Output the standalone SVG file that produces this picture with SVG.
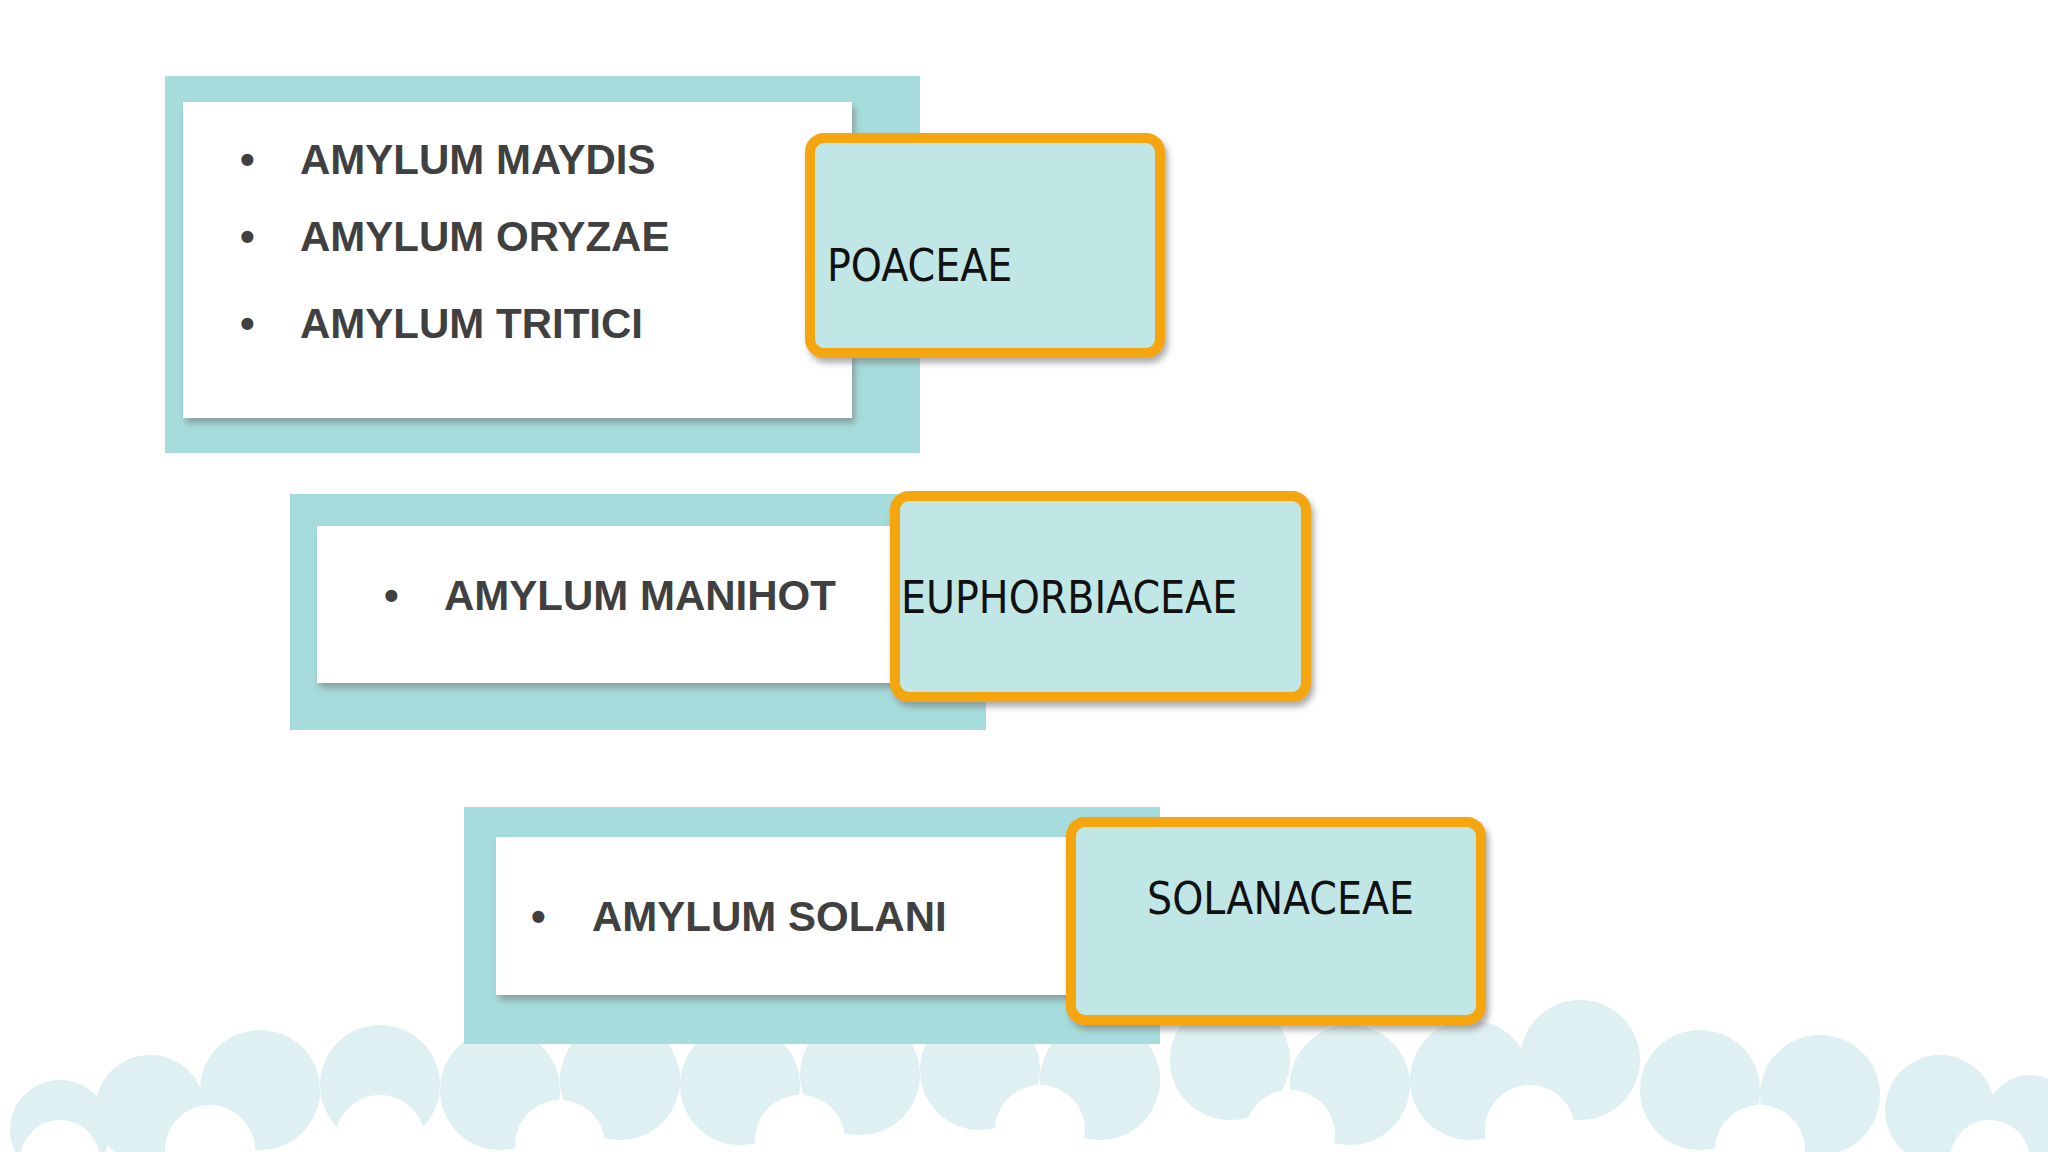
<svg xmlns="http://www.w3.org/2000/svg" width="2048" height="1152" viewBox="0 0 2048 1152">
<defs>
<style>
.teal{fill:#a6dcdc}
.card{fill:#fff;filter:url(#sh)}
.fam{fill:#c0e6e6;stroke:#f5a50e;stroke-width:10}
.item{font-family:"Liberation Sans",Arial,sans-serif;font-weight:bold;font-size:42px;fill:#404040}
.lab{font-family:"DejaVu Sans Condensed","DejaVu Sans",sans-serif;font-size:44px;fill:#111}
.cl{fill:#dff0f2}
.cw{fill:#fff}
</style>
<filter id="sh" x="-5%" y="-5%" width="115%" height="120%"><feDropShadow dx="3" dy="5" stdDeviation="3" flood-color="#777" flood-opacity="0.6"/></filter>
</defs>
<rect width="2048" height="1152" fill="#fff"/>
<g id="clouds">
<circle class="cl" cx="60" cy="1130" r="50"/><circle class="cl" cx="150" cy="1110" r="55"/><circle class="cl" cx="260" cy="1090" r="60"/><circle class="cl" cx="380" cy="1085" r="60"/><circle class="cl" cx="500" cy="1090" r="60"/><circle class="cl" cx="620" cy="1080" r="60"/><circle class="cl" cx="740" cy="1085" r="60"/><circle class="cl" cx="860" cy="1075" r="60"/><circle class="cl" cx="980" cy="1070" r="60"/><circle class="cl" cx="1100" cy="1080" r="60"/><circle class="cl" cx="1230" cy="1060" r="60"/><circle class="cl" cx="1350" cy="1085" r="60"/><circle class="cl" cx="1470" cy="1080" r="60"/><circle class="cl" cx="1580" cy="1060" r="60"/><circle class="cl" cx="1700" cy="1090" r="60"/><circle class="cl" cx="1820" cy="1095" r="60"/><circle class="cl" cx="1940" cy="1110" r="55"/><circle class="cl" cx="2030" cy="1120" r="45"/>
<circle class="cw" cx="60" cy="1160" r="40"/><circle class="cw" cx="210" cy="1150" r="45"/><circle class="cw" cx="380" cy="1140" r="45"/><circle class="cw" cx="560" cy="1145" r="45"/><circle class="cw" cx="800" cy="1140" r="45"/><circle class="cw" cx="1040" cy="1130" r="45"/><circle class="cw" cx="1290" cy="1135" r="45"/><circle class="cw" cx="1530" cy="1130" r="45"/><circle class="cw" cx="1760" cy="1150" r="45"/><circle class="cw" cx="1990" cy="1160" r="40"/>
</g>
<g id="node1">
<rect class="teal" x="165" y="76" width="755" height="377"/>
<rect class="card" x="183" y="102" width="669" height="316"/>
<text class="item" x="240" y="174">•</text><text class="item" x="300" y="174">AMYLUM MAYDIS</text>
<text class="item" x="240" y="251">•</text><text class="item" x="300" y="251">AMYLUM ORYZAE</text>
<text class="item" x="240" y="338">•</text><text class="item" x="300" y="338">AMYLUM TRITICI</text>
</g>
<g id="poaceae"><rect class="fam" x="810" y="138" width="350" height="215" rx="14" filter="url(#sh)"/><text class="lab" x="827" y="281">POACEAE</text></g>
<g id="node2">
<rect class="teal" x="290" y="494" width="696" height="236"/>
<rect class="card" x="317" y="526" width="584" height="157"/>
<text class="item" x="384" y="610">•</text><text class="item" x="444" y="610">AMYLUM MANIHOT</text>
</g>
<g id="euphorbiaceae"><rect class="fam" x="895" y="496" width="411" height="201" rx="14" filter="url(#sh)"/><text class="lab" x="901" y="613">EUPHORBIACEAE</text></g>
<g id="node3">
<rect class="teal" x="464" y="807" width="696" height="237"/>
<rect class="card" x="496" y="837" width="572" height="158"/>
<text class="item" x="531" y="931">•</text><text class="item" x="592" y="931">AMYLUM SOLANI</text>
</g>
<g id="solanaceae"><rect class="fam" x="1071" y="822" width="410" height="198" rx="14" filter="url(#sh)"/><text class="lab" x="1147" y="914">SOLANACEAE</text></g>
<g id="connectors"/>
</svg>
